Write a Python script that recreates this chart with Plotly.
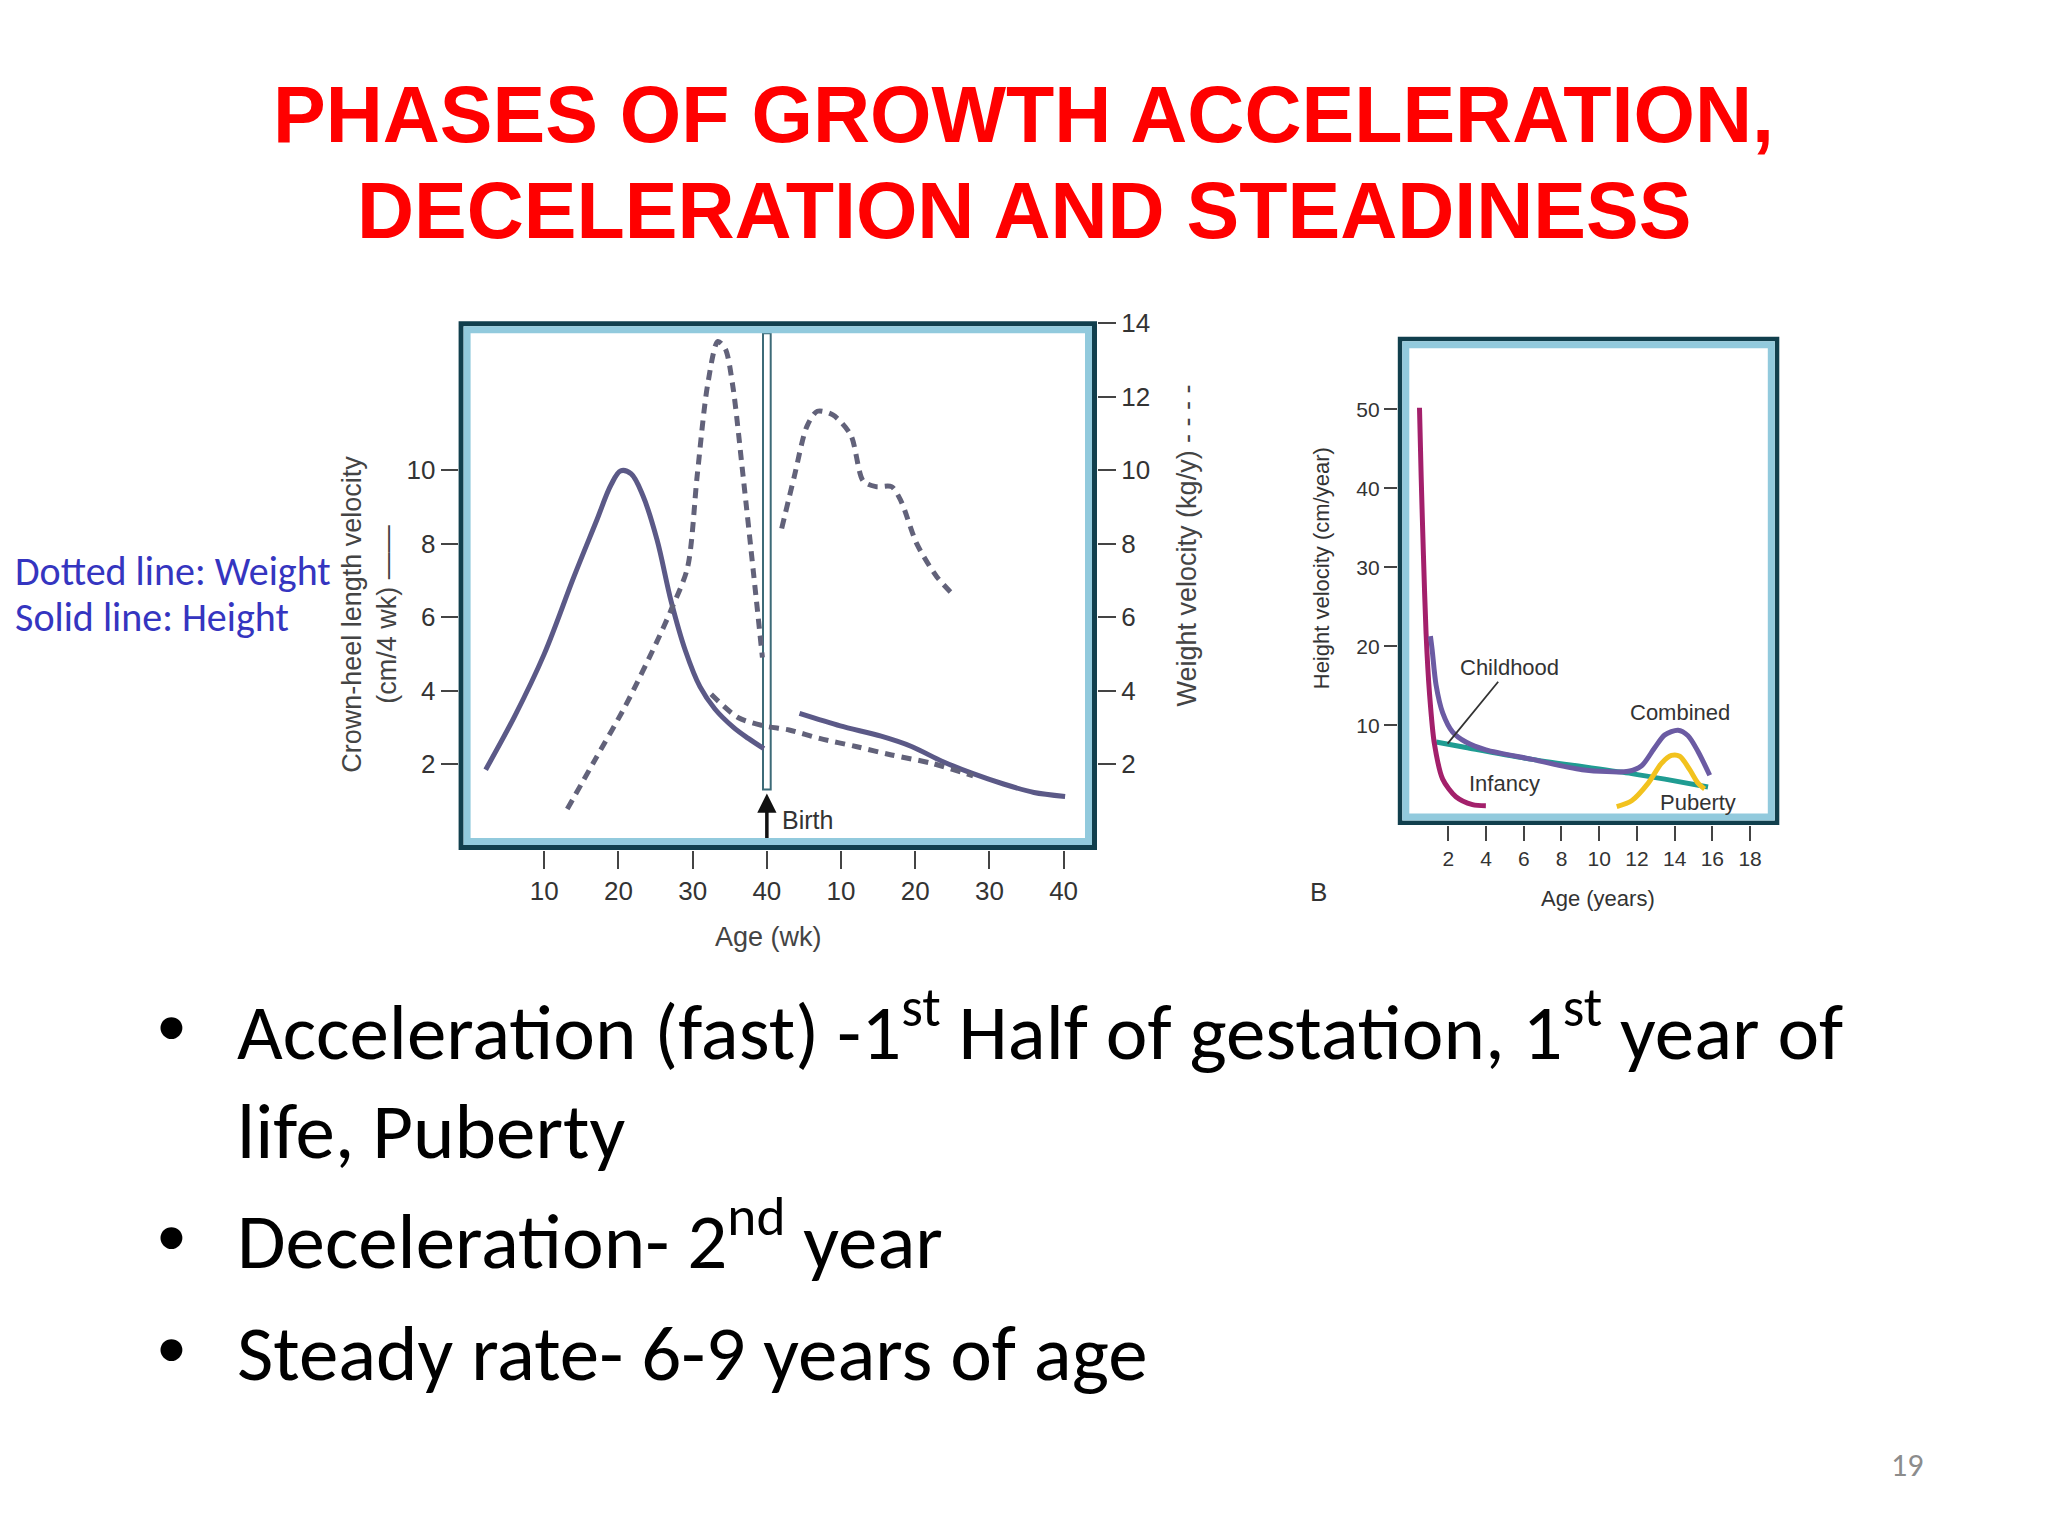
import plotly.graph_objects as go

W, H = 2048, 1536

# ---------------- data: left chart (x = weeks; 0-40 gestation, 40-80 = weeks after birth)
X_TICKVALS = [10, 20, 30, 40, 50, 60, 70, 80]
X_TICKTEXT = ["10", "20", "30", "40", "10", "20", "30", "40"]
LEFT_Y_TICKS = [2, 4, 6, 8, 10]
RIGHT_Y_TICKS = [2, 4, 6, 8, 10, 12, 14]
BIRTH_WEEK = 40

HEIGHT_PRE_WK = [2.1, 6.0, 10.0, 14.0, 17.0, 19.0, 20.3, 21.7, 23.3, 25.2, 27.1, 29.0, 31.0, 33.0, 35.5, 37.5, 39.6]
HEIGHT_PRE_V = [1.85, 3.3, 5.0, 7.1, 8.6, 9.6, 9.98, 9.9, 9.3, 8.1, 6.43, 5.1, 4.1, 3.5, 3.0, 2.7, 2.42]

HEIGHT_POST_WK = [44.4, 49.9, 55.4, 59.5, 63.6, 67.8, 71.9, 76.0, 80.2]
HEIGHT_POST_V = [3.38, 3.04, 2.76, 2.48, 2.08, 1.74, 1.46, 1.23, 1.12]

WEIGHT_PRE_WK = [13.1, 16.9, 21.0, 25.1, 27.1, 29.3, 30.6, 32.0, 33.4, 34.4, 35.4, 36.8, 38.2, 39.4]
WEIGHT_PRE_V = [0.78, 2.14, 3.61, 5.3, 6.2, 7.34, 9.83, 12.3, 13.5, 13.3, 12.3, 9.83, 7.2, 4.9]

WEIGHT_LOW_WK = [32.5, 36.1, 39.6, 43.0, 47.1, 52.0, 56.8, 62.3, 67.8]
WEIGHT_LOW_V = [3.9, 3.27, 3.04, 2.93, 2.7, 2.48, 2.25, 2.02, 1.68]

WEIGHT_POST_WK = [42.0, 43.7, 45.4, 46.8, 48.9, 51.3, 53.0, 54.7, 56.8, 58.1, 60.2, 62.9, 65.4]
WEIGHT_POST_V = [8.41, 9.83, 11.19, 11.6, 11.5, 10.96, 9.7, 9.55, 9.55, 9.15, 8.0, 7.1, 6.55]

# ---------------- data: right chart (x = years, y = cm/year)
R_X_TICKS = [2, 4, 6, 8, 10, 12, 14, 16, 18]
R_Y_TICKS = [10, 20, 30, 40, 50]

INFANCY_X = [0.47, 0.56, 0.68, 0.82, 1.0, 1.26, 1.70, 2.40, 3.28, 3.99]
INFANCY_Y = [50.2, 41.4, 31.5, 21.6, 14.1, 7.7, 3.2, 0.97, -0.02, -0.17]

COMBINED_X = [1.05, 1.14, 1.35, 1.70, 2.23, 2.93, 3.99, 6.45, 9.09, 11.55, 12.25, 12.95, 13.48, 14.18, 14.71, 15.24, 15.86]
COMBINED_Y = [21.3, 19.6, 15.1, 11.6, 9.16, 7.9, 6.9, 5.7, 4.4, 4.2, 4.9, 7.2, 8.8, 9.4, 8.7, 6.7, 3.7]

CHILDHOOD_X = [1.35, 2.93, 6.45, 11.72, 13.48, 15.77]
CHILDHOOD_Y = [7.9, 7.2, 5.7, 3.9, 3.2, 2.2]

PUBERTY_X = [10.93, 11.72, 12.6, 13.3, 13.83, 14.27, 14.8, 15.24, 15.59]
PUBERTY_Y = [-0.27, 0.47, 2.7, 5.2, 6.2, 6.1, 4.4, 2.7, 1.96]

# ---------------- geometry helpers (pixel -> paper)
def px(x):
    return x / W

def py(y):
    return 1 - y / H

# left chart box (outer edges, pixels) and its data extent
L_L, L_R, L_T, L_B = 458.6, 1097.0, 311.0, 844.0
L_XR = [-1.55, 84.5]
L_YR = [-0.332, 14.046]
# right chart box
R_L, R_R, R_T, R_B = 1397.8, 1779.3, 326.6, 818.9
R_XR = [-0.68, 19.55]
R_YR = [-2.597, 59.17]

SOLID = "#5b5987"
DASH = "#62627a"
TXT = "#333333"
AX_FONT = dict(family="Liberation Sans, Arial, sans-serif", size=26, color=TXT)
R_AX_FONT = dict(family="Liberation Sans, Arial, sans-serif", size=21, color=TXT)

fig = go.Figure()

def add_line(x, y, color, dash=None, xa="x", ya="y", width=5, smoothing=0.8):
    fig.add_trace(go.Scatter(
        x=x, y=y, mode="lines", xaxis=xa, yaxis=ya,
        line=dict(color=color, width=width, shape="spline", smoothing=smoothing, dash=dash),
        hoverinfo="skip", showlegend=False))

add_line(HEIGHT_PRE_WK, HEIGHT_PRE_V, SOLID, smoothing=1.0)
add_line(HEIGHT_POST_WK, HEIGHT_POST_V, SOLID)
add_line(WEIGHT_PRE_WK, WEIGHT_PRE_V, DASH, dash="10px,7px", ya="y2")
add_line(WEIGHT_LOW_WK, WEIGHT_LOW_V, DASH, dash="10px,7px", ya="y2")
add_line(WEIGHT_POST_WK, WEIGHT_POST_V, DASH, dash="10px,7px", ya="y2")

add_line(CHILDHOOD_X, CHILDHOOD_Y, "#1f9c92", xa="x2", ya="y3", width=5)
add_line(PUBERTY_X, PUBERTY_Y, "#f2c21e", xa="x2", ya="y3", width=5)
add_line(INFANCY_X, INFANCY_Y, "#a3206b", xa="x2", ya="y3", width=5)
add_line(COMBINED_X, COMBINED_Y, "#6b5ba3", xa="x2", ya="y3", width=5)

common = dict(showgrid=False, zeroline=False, showline=False, ticks="outside",
              tickwidth=2, tickcolor="#444444", fixedrange=True)

fig.update_layout(
    width=W, height=H, margin=dict(l=0, r=0, t=0, b=0),
    paper_bgcolor="white", plot_bgcolor="white", showlegend=False,
    xaxis=dict(domain=[px(L_L), px(L_R)], range=L_XR, anchor="y",
               tickvals=X_TICKVALS, ticktext=X_TICKTEXT, ticklen=18,
               tickfont=AX_FONT, **common),
    yaxis=dict(domain=[py(L_B), py(L_T)], range=L_YR, anchor="x",
               tickvals=LEFT_Y_TICKS, ticklen=17, tickfont=AX_FONT, **common),
    yaxis2=dict(range=L_YR, overlaying="y", side="right", anchor="x",
                tickvals=RIGHT_Y_TICKS, ticklen=18, tickfont=AX_FONT, **common),
    xaxis2=dict(domain=[px(R_L), px(R_R)], range=R_XR, anchor="y3",
                tickvals=R_X_TICKS, ticklen=15, tickfont=R_AX_FONT, **common),
    yaxis3=dict(domain=[py(R_B), py(R_T)], range=R_YR, anchor="x2",
                tickvals=R_Y_TICKS, ticklen=13, tickfont=R_AX_FONT, **common),
)

shapes = []
for (l, r, t, b, dk, lt) in [(L_L, L_R, L_T, L_B, 5, 7), (R_L, R_R, R_T, R_B, 4.5, 7)]:
    shapes.append(dict(type="rect", xref="paper", yref="paper", layer="above",
                       x0=px(l + dk / 2), x1=px(r - dk / 2), y0=py(b - dk / 2), y1=py(t + dk / 2),
                       line=dict(color="#113f4d", width=dk), fillcolor="rgba(0,0,0,0)"))
    o = dk + lt / 2
    shapes.append(dict(type="rect", xref="paper", yref="paper", layer="above",
                       x0=px(l + o), x1=px(r - o), y0=py(b - o), y1=py(t + o),
                       line=dict(color="#92cadd", width=lt), fillcolor="rgba(0,0,0,0)"))
shapes.append(dict(type="rect", xref="x", yref="y", layer="below",
                   x0=BIRTH_WEEK - 0.52, x1=BIRTH_WEEK + 0.52, y0=1.31, y1=13.72,
                   line=dict(color="#3d6b78", width=2), fillcolor="white"))
fig.update_layout(shapes=shapes)

ann = []

def note(x, y, text, font, xanchor="center", yanchor="middle", **kw):
    ann.append(dict(x=px(x), y=py(y), xref="paper", yref="paper", showarrow=False,
                    xanchor=xanchor, yanchor=yanchor, text=text, font=font, **kw))

# Birth arrow + label
ann.append(dict(x=BIRTH_WEEK, y=1.2, ax=BIRTH_WEEK, ay=-0.05, xref="x", yref="y", axref="x", ayref="y",
                text="", showarrow=True, arrowhead=2, arrowsize=1.1, arrowwidth=3.5, arrowcolor="#111111"))
ann.append(dict(x=41.8, y=0.48, xref="x", yref="y", text="Birth", showarrow=False,
                xanchor="left", yanchor="middle",
                font=dict(family="Liberation Sans, Arial, sans-serif", size=25, color=TXT)))

LT = dict(family="Liberation Sans, Arial, sans-serif", size=27, color="#444444")
note(370, 607, "Crown-heel length velocity<br>(cm/4 wk) ——", LT, textangle=-90)
note(1187, 537, "Weight velocity (kg/y) - - - -", LT, textangle=-90)
note(768, 932, "Age (wk)", LT)

RF = dict(family="Liberation Sans, Arial, sans-serif", size=22, color=TXT)
note(1321, 560, "Height velocity (cm/year)", RF, textangle=-90)
note(1598, 893, "Age (years)", RF)
note(1318, 887, "B", dict(family="Liberation Sans, Arial, sans-serif", size=26, color=TXT))

ann.append(dict(x=1.96, y=7.7, ax=5.25, ay=17.3, xref="x2", yref="y3", axref="x2", ayref="y3",
                text="Childhood", showarrow=True, arrowhead=0, arrowwidth=1.8, arrowcolor="#333333",
                standoff=0, font=RF, xanchor="center", yanchor="middle"))
for lx, ly, lt in [(14.27, 11.6, "Combined"), (4.99, 2.7, "Infancy"), (15.24, 0.2, "Puberty")]:
    ann.append(dict(x=lx, y=ly, xref="x2", yref="y3", text=lt, showarrow=False,
                    xanchor="center", yanchor="middle", font=RF))

# slide title
TF = dict(family="Liberation Sans, Arial, sans-serif", size=79, color="#ff0000")
note(1023, 102, "<b>PHASES OF GROWTH ACCELERATION,</b>", TF)
note(1024, 199, "<b>DECELERATION AND STEADINESS</b>", TF)

# side note
NF = dict(family="Calibri, Carlito, Lato, sans-serif", size=40, color="#3535c0")
note(13, 563, "Dotted line: Weight", NF, xanchor="left")
note(13, 610, "Solid line: Height", NF, xanchor="left")

# bullets
BF = dict(family="Calibri, Carlito, Lato, sans-serif", size=79, color="#000000")
DF = dict(family="Calibri, Carlito, Lato, sans-serif", size=62, color="#000000")
lines = [
    (1022, 1020, "Acceleration (fast) -1<sup>st</sup> Half of gestation, 1<sup>st</sup> year of", True),
    (1128, None, "life, Puberty", False),
    (1233, 1231, "Deceleration- 2<sup>nd</sup> year", True),
    (1351, 1344, "Steady rate- 6-9 years of age", True),
]
for yy, by, t, bullet in lines:
    note(235, yy, t, BF, xanchor="left")
    if bullet:
        note(171, by, "•", DF)

note(1907, 1465, "19", dict(family="Calibri, Carlito, Lato, sans-serif", size=32, color="#8c8c8c"))

fig.update_layout(annotations=ann)
fig.write_html("out.html")
